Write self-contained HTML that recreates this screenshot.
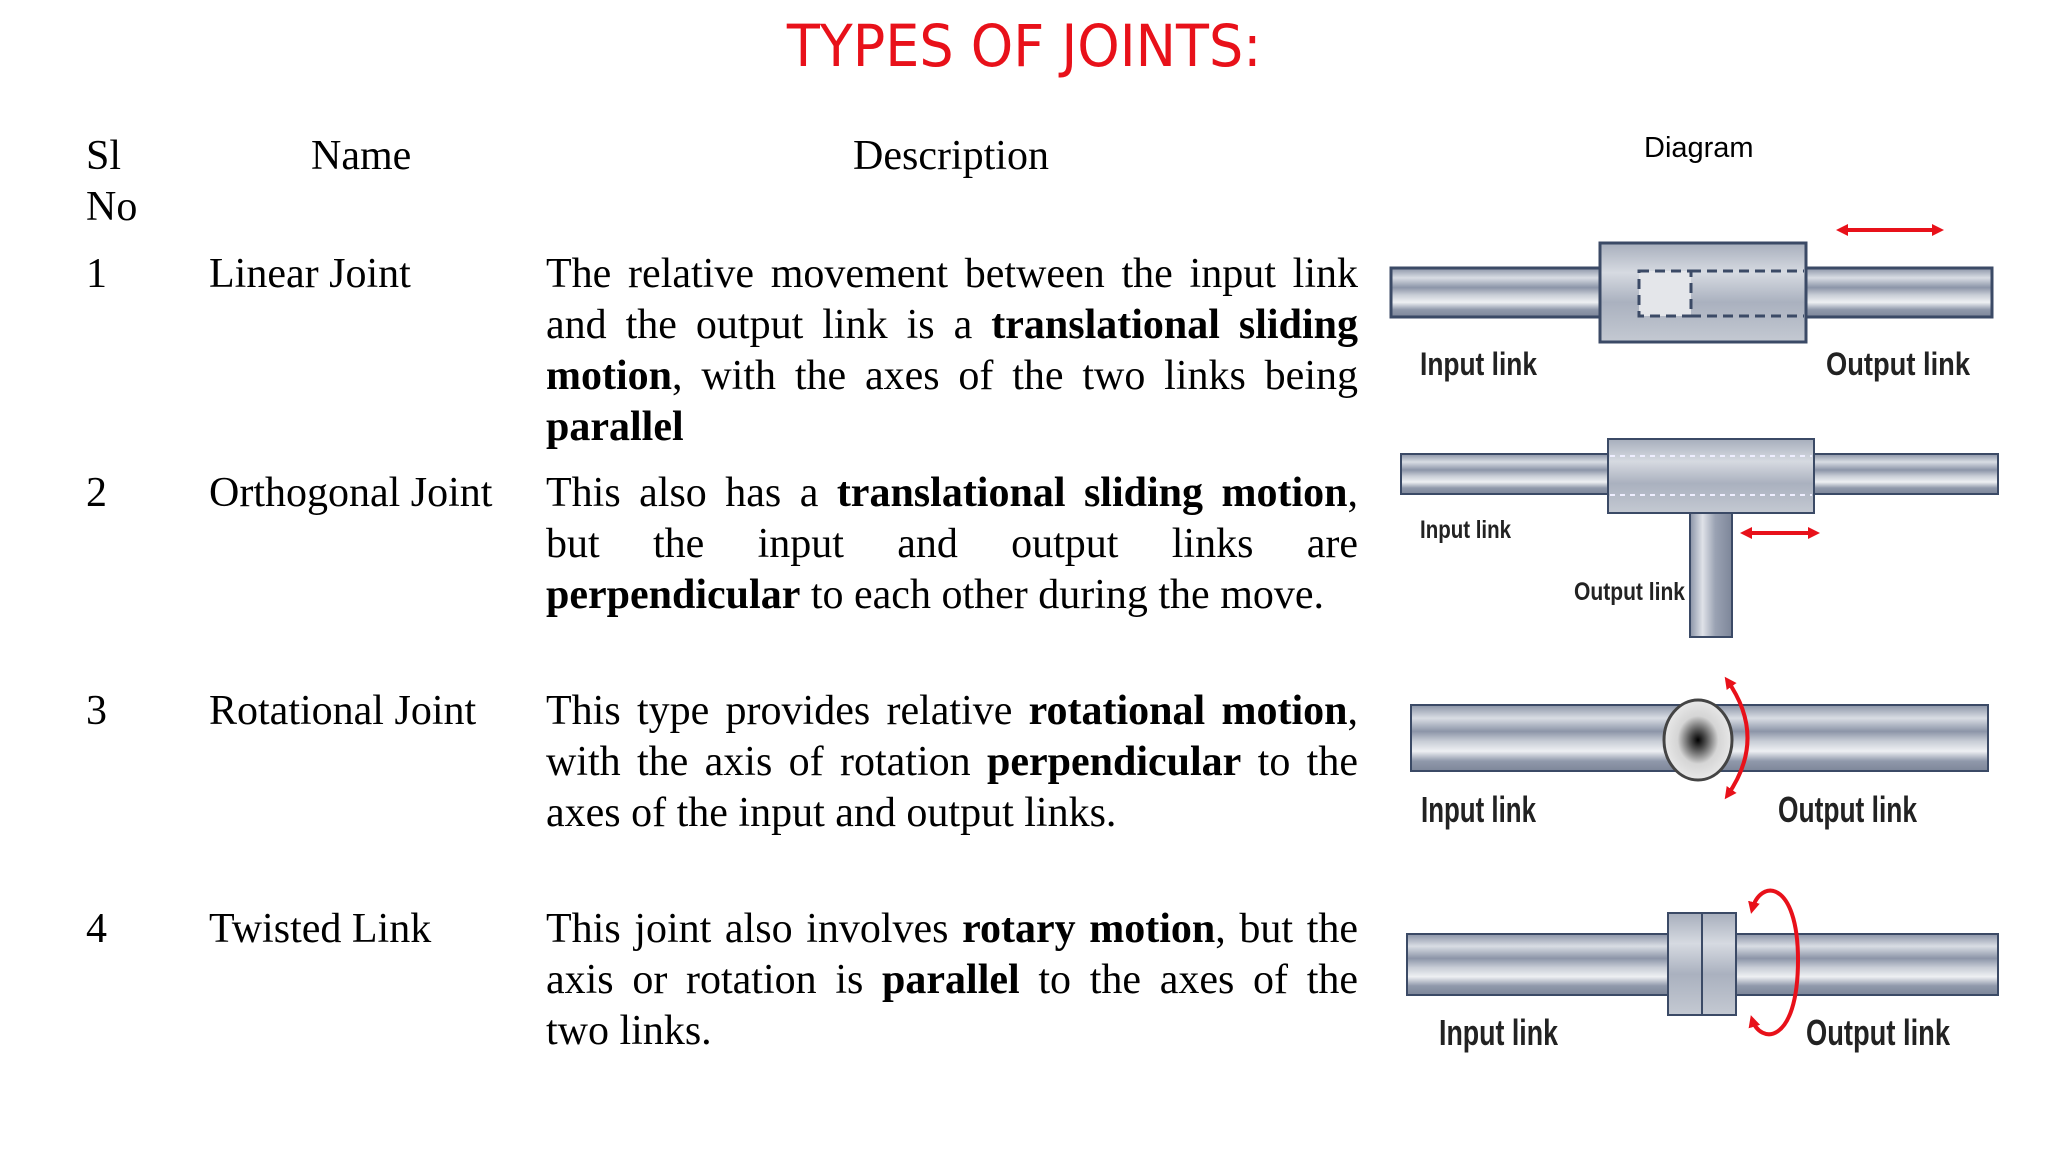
<!DOCTYPE html>
<html><head><meta charset="utf-8">
<style>
html,body{margin:0;padding:0;background:#fff;}
body{width:2048px;height:1152px;position:relative;overflow:hidden;font-family:"Liberation Serif",serif;color:#000;}
.t{position:absolute;font-size:42px;line-height:51px;white-space:nowrap;}
.d{position:absolute;left:546px;width:812px;font-size:42px;line-height:51px;text-align:justify;}
.j{text-align:justify;text-align-last:justify;white-space:nowrap;}
.title{position:absolute;left:0;width:2048px;top:12px;text-align:center;font-family:"DejaVu Sans","Liberation Sans",sans-serif;color:#e8111a;font-size:58px;}
.title span{display:inline-block;transform:scaleX(0.93);}
svg{position:absolute;left:0;top:0;}
</style></head><body>
<div class="title"><span>TYPES OF JOINTS:</span></div>
<div class="t" style="left:86px;top:131px">Sl<br>No</div>
<div class="t" style="left:311px;top:131px">Name</div>
<div class="t" style="left:853px;top:131px">Description</div>
<div class="t" style="left:1644px;top:130px;font-family:'Liberation Sans',sans-serif;font-size:29px;line-height:36px">Diagram</div>

<div class="t" style="left:86px;top:249px">1</div>
<div class="t" style="left:209px;top:249px">Linear Joint</div>
<div class="d" style="top:249px">The relative movement between the input link and the output link is a <b>translational sliding motion</b>, with the axes of the two links being <b>parallel</b></div>

<div class="t" style="left:86px;top:468px">2</div>
<div class="t" style="left:209px;top:468px">Orthogonal Joint</div>
<div class="d" style="top:468px">This also has a <b>translational sliding motion</b>, but the input and output links are <b>perpendicular</b> to each other during the move.</div>

<div class="t" style="left:86px;top:686px">3</div>
<div class="t" style="left:209px;top:686px">Rotational Joint</div>
<div class="d" style="top:686px">This type provides relative <b>rotational motion</b>, with the axis of rotation <b>perpendicular</b> to the axes of the input and output links.</div>

<div class="t" style="left:86px;top:904px">4</div>
<div class="t" style="left:209px;top:904px">Twisted Link</div>
<div class="d" style="top:904px"><div class="j">This joint also involves <b>rotary motion</b>, but the</div><div class="j">axis or rotation is <b>parallel</b> to the axes of the</div><div>two links.</div></div>

<svg width="2048" height="1152" viewBox="0 0 2048 1152">
<defs>
<linearGradient id="rod" x1="0" y1="0" x2="0" y2="1">
<stop offset="0" stop-color="#8a93a6"/><stop offset="0.2" stop-color="#d9dde4"/><stop offset="0.4" stop-color="#8c95a8"/><stop offset="0.55" stop-color="#c8cdd6"/><stop offset="0.7" stop-color="#eef0f3"/><stop offset="0.85" stop-color="#9099ab"/><stop offset="1" stop-color="#7d8699"/>
</linearGradient>
<linearGradient id="rodv" x1="0" y1="0" x2="1" y2="0">
<stop offset="0" stop-color="#8a93a6"/><stop offset="0.3" stop-color="#dfe2e8"/><stop offset="0.6" stop-color="#9aa2b3"/><stop offset="1" stop-color="#7d8699"/>
</linearGradient>
<linearGradient id="box" x1="0" y1="0" x2="0" y2="1">
<stop offset="0" stop-color="#a7aebc"/><stop offset="0.3" stop-color="#d6dae1"/><stop offset="0.6" stop-color="#aab1bf"/><stop offset="1" stop-color="#c4c9d2"/>
</linearGradient>
<radialGradient id="hub"><stop offset="0" stop-color="#000"/><stop offset="0.25" stop-color="#555"/><stop offset="0.6" stop-color="#d5d5d5"/><stop offset="1" stop-color="#e8e8e8"/></radialGradient>
<marker id="ah" markerWidth="3" markerHeight="3" refX="2" refY="1.5" orient="auto-start-reverse" markerUnits="strokeWidth"><path d="M0,0 L3,1.5 L0,3 z" fill="#e8111a"/></marker>
</defs>
<g stroke="#3b4a66" stroke-width="3">
<rect x="1391" y="268" width="601" height="49" fill="url(#rod)"/>
<rect x="1600" y="243" width="206" height="99" fill="url(#box)"/>
<rect x="1639" y="271" width="52" height="45" fill="#e4e6ea" stroke-dasharray="10,6"/>
<path d="M1691 271 H1804 M1691 316 H1804" fill="none" stroke-dasharray="10,6"/>
<rect x="1401" y="454" width="597" height="40" fill="url(#rod)" stroke-width="2"/>
<rect x="1690" y="513" width="42" height="124" fill="url(#rodv)" stroke-width="2"/>
<rect x="1608" y="439" width="206" height="74" fill="url(#box)" stroke-width="2"/>
<path d="M1610 456 H1812 M1610 495 H1812" stroke="#eef" stroke-width="2" stroke-dasharray="5,5"/>
<rect x="1411" y="705" width="577" height="66" fill="url(#rod)" stroke-width="2"/>
<ellipse cx="1698" cy="740" rx="34" ry="40" fill="url(#hub)" stroke="#444"/>
<rect x="1407" y="934" width="591" height="61" fill="url(#rod)" stroke-width="2"/>
<rect x="1668" y="913" width="34" height="102" fill="url(#box)" stroke-width="2"/>
<rect x="1702" y="913" width="34" height="102" fill="url(#box)" stroke-width="2"/>
</g>
<g stroke="#e8111a" stroke-width="4" fill="none">
<line x1="1840" y1="230" x2="1940" y2="230" marker-start="url(#ah)" marker-end="url(#ah)"/>
<line x1="1744" y1="533" x2="1816" y2="533" marker-start="url(#ah)" marker-end="url(#ah)"/>
<path d="M1727 680 Q1768 738 1727 796" marker-start="url(#ah)" marker-end="url(#ah)"/>
<path d="M1752 910 C1760 878 1798 880 1798 960 C1798 1045 1760 1045 1752 1019" marker-start="url(#ah)" marker-end="url(#ah)"/>
</g>
<g font-family="Liberation Sans, sans-serif" fill="#222" font-weight="bold">
<text x="1420" y="375" font-size="32" textLength="117" lengthAdjust="spacingAndGlyphs">Input link</text>
<text x="1826" y="375" font-size="32" textLength="144" lengthAdjust="spacingAndGlyphs">Output link</text>
<text x="1420" y="538" font-size="25" textLength="91" lengthAdjust="spacingAndGlyphs">Input link</text>
<text x="1574" y="600" font-size="25" textLength="111" lengthAdjust="spacingAndGlyphs">Output link</text>
<text x="1421" y="822" font-size="36" textLength="115" lengthAdjust="spacingAndGlyphs">Input link</text>
<text x="1778" y="822" font-size="36" textLength="139" lengthAdjust="spacingAndGlyphs">Output link</text>
<text x="1439" y="1045" font-size="36" textLength="119" lengthAdjust="spacingAndGlyphs">Input link</text>
<text x="1806" y="1045" font-size="36" textLength="144" lengthAdjust="spacingAndGlyphs">Output link</text>
</g>
</svg>
</body></html>
